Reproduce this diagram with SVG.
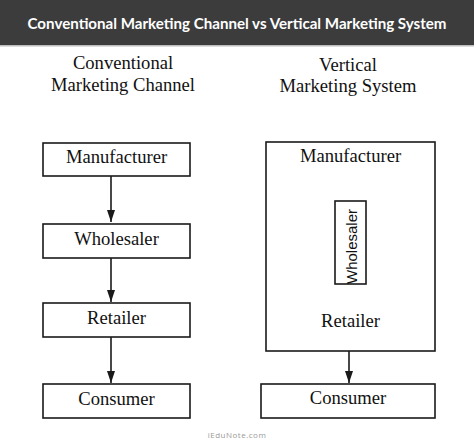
<svg xmlns="http://www.w3.org/2000/svg" width="474" height="448" viewBox="0 0 474 448">
<style>
.box{fill:#fff;stroke:#1a1a1a;stroke-width:1.6}
.t{font-family:"Liberation Serif","Times New Roman",serif;font-size:18.6px;fill:#111;text-anchor:middle}
.conn{stroke:#1a1a1a;stroke-width:1.6;fill:none}
</style>
<defs>
<marker id="arr" viewBox="0 0 12 8" refX="12" refY="4" markerWidth="12" markerHeight="8" orient="auto" markerUnits="userSpaceOnUse">
<path d="M0,0 L12,4 L0,8 z" fill="#1a1a1a"/>
</marker>
</defs>
<rect x="0" y="0" width="474" height="448" fill="#fff"/>
<g id="header">
<rect x="0" y="0" width="474" height="45" fill="#3c3c3c"/>
<rect x="0" y="45" width="474" height="1.5" fill="#bdbdbd"/>
<text x="237" y="28.5" font-family="Lato,'Open Sans',sans-serif" font-weight="bold" font-size="16" fill="#fff" text-anchor="middle" textLength="419" lengthAdjust="spacingAndGlyphs">Conventional Marketing Channel vs Vertical Marketing System</text>
</g>
<g id="heading-left">
<text class="t" x="123" y="69">Conventional</text>
<text class="t" x="123" y="91">Marketing Channel</text>
</g>
<g id="heading-right">
<text class="t" x="348" y="71">Vertical</text>
<text class="t" x="348" y="92">Marketing System</text>
</g>
<g id="left-manufacturer">
<rect class="box" x="43" y="143" width="147" height="33"/>
<text class="t" x="116.5" y="163">Manufacturer</text>
</g>
<g id="left-wholesaler">
<rect class="box" x="43" y="224" width="147" height="34"/>
<text class="t" x="116.5" y="245">Wholesaler</text>
</g>
<g id="left-retailer">
<rect class="box" x="43" y="303" width="147" height="34"/>
<text class="t" x="116.5" y="324">Retailer</text>
</g>
<g id="left-consumer">
<rect class="box" x="43" y="384" width="147" height="34"/>
<text class="t" x="116.5" y="405">Consumer</text>
</g>
<g id="vms">
<rect class="box" x="266" y="142" width="169" height="209"/>
<text class="t" x="350.5" y="162">Manufacturer</text>
<text class="t" x="350.5" y="327">Retailer</text>
</g>
<g id="vms-wholesaler">
<rect class="box" x="335" y="201" width="31" height="83"/>
<text x="0" y="0" transform="translate(356.5 246.5) rotate(-90)" font-family="'Liberation Sans',Arial,sans-serif" font-size="15" fill="#111" text-anchor="middle">Wholesaler</text>
</g>
<g id="right-consumer">
<rect class="box" x="261" y="384" width="174" height="34"/>
<text class="t" x="348" y="404">Consumer</text>
</g>
<g id="connectors">
<line class="conn" x1="111" y1="176" x2="111" y2="222" marker-end="url(#arr)"/>
<line class="conn" x1="111" y1="258" x2="111" y2="302" marker-end="url(#arr)"/>
<line class="conn" x1="111" y1="337" x2="111" y2="383" marker-end="url(#arr)"/>
<line class="conn" x1="349" y1="351" x2="349" y2="383" marker-end="url(#arr)"/>
</g>
<g id="watermark">
<text x="237" y="438" font-family="'Open Sans','Noto Sans',sans-serif" font-size="8" fill="#9a9a9a" text-anchor="middle" letter-spacing="0.5">iEduNote.com</text>
</g>
</svg>
